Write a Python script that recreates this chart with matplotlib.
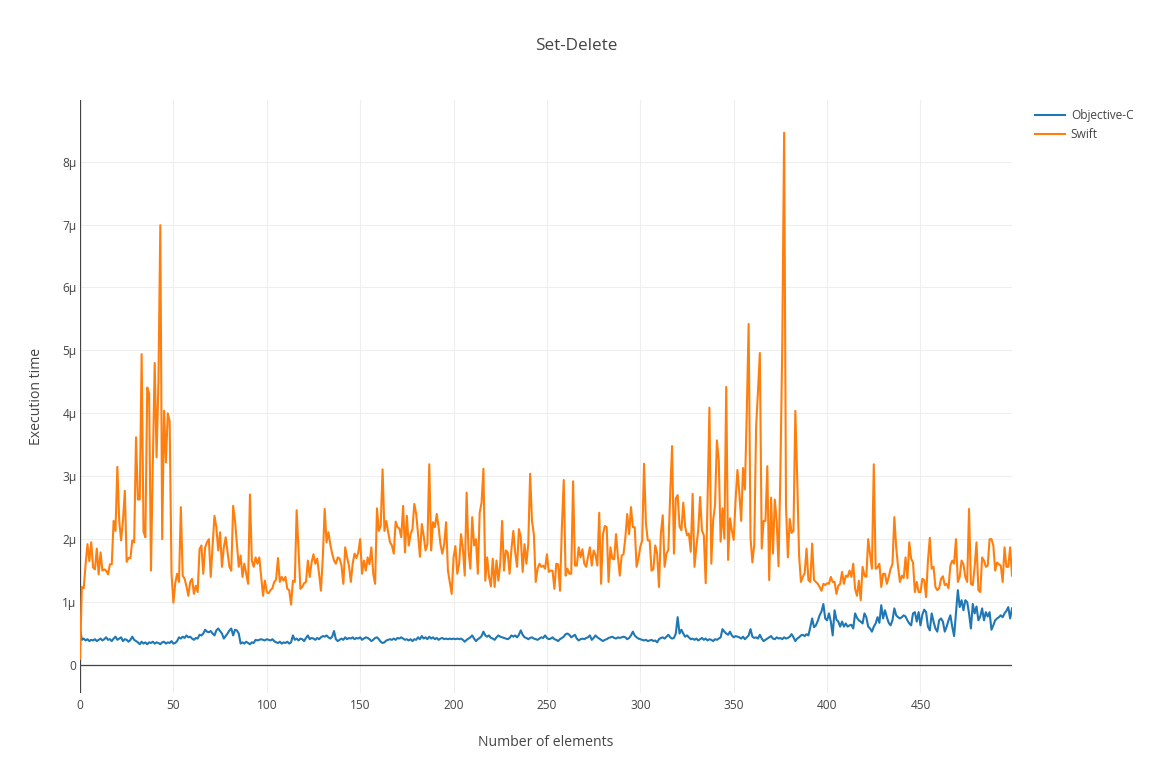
import matplotlib
matplotlib.use("Agg")
import matplotlib.pyplot as plt
import numpy as np

plt.rcParams['font.family'] = ['Open Sans', 'DejaVu Sans']

title = "Set-Delete"
x_title = "Number of elements"
y_title = "Execution time"
series_names = ["Objective-C", "Swift"]
x_ticks = [0, 50, 100, 150, 200, 250, 300, 350, 400, 450]
y_ticks = [0, 1, 2, 3, 4, 5, 6, 7, 8]
y_tick_labels = ["0", "1μ", "2μ", "3μ", "4μ", "5μ", "6μ", "7μ", "8μ"]

# execution time in microseconds, one value per element count 0..499
objc = [
    0.58, 0.4, 0.42, 0.39, 0.41, 0.38, 0.4, 0.39, 0.41, 0.38,
    0.4, 0.42, 0.39, 0.41, 0.44, 0.4, 0.41, 0.38, 0.42, 0.45,
    0.4, 0.42, 0.44, 0.38, 0.41, 0.4, 0.37, 0.4, 0.45, 0.4,
    0.38, 0.36, 0.33, 0.37, 0.34, 0.36, 0.33, 0.36, 0.35, 0.37,
    0.34, 0.36, 0.35, 0.33, 0.36, 0.37, 0.34, 0.36, 0.35, 0.38,
    0.34, 0.35, 0.38, 0.44, 0.42, 0.45, 0.43, 0.47, 0.44, 0.45,
    0.42, 0.4, 0.43, 0.42, 0.48, 0.47, 0.5, 0.56, 0.53, 0.52,
    0.54, 0.5, 0.47, 0.55, 0.58, 0.54, 0.5, 0.42, 0.46, 0.5,
    0.55, 0.58, 0.47, 0.56, 0.55, 0.5, 0.34, 0.36, 0.34, 0.37,
    0.35, 0.33, 0.36, 0.35, 0.4, 0.39, 0.4, 0.41, 0.4, 0.39,
    0.41, 0.4, 0.39, 0.41, 0.38, 0.36, 0.35, 0.37, 0.34, 0.36,
    0.35, 0.37, 0.34, 0.36, 0.47, 0.4, 0.42, 0.39, 0.42, 0.41,
    0.38, 0.43, 0.47, 0.41, 0.43, 0.42, 0.4, 0.43, 0.41, 0.44,
    0.46, 0.45, 0.47, 0.44, 0.42, 0.45, 0.54, 0.41, 0.38, 0.4,
    0.42, 0.4, 0.44, 0.41, 0.43, 0.42, 0.44, 0.41, 0.43, 0.42,
    0.44, 0.4, 0.42, 0.44, 0.43, 0.41, 0.38, 0.4, 0.43, 0.44,
    0.41, 0.37, 0.35, 0.36, 0.39, 0.4, 0.41, 0.4, 0.42, 0.4,
    0.43, 0.42, 0.44, 0.42, 0.4, 0.41, 0.39, 0.41, 0.38, 0.41,
    0.4, 0.44, 0.41, 0.46, 0.42, 0.44, 0.41, 0.45, 0.42, 0.44,
    0.41, 0.43, 0.4, 0.42, 0.43, 0.41, 0.42, 0.41, 0.42, 0.41,
    0.42, 0.41, 0.42, 0.41, 0.42, 0.4, 0.37, 0.4, 0.42, 0.44,
    0.47, 0.42, 0.38, 0.41, 0.43, 0.46, 0.53, 0.47, 0.45, 0.47,
    0.43, 0.42, 0.4, 0.44, 0.47, 0.45, 0.44, 0.43, 0.42, 0.41,
    0.43, 0.47, 0.45, 0.47, 0.44, 0.48, 0.55, 0.48, 0.44, 0.43,
    0.41, 0.43, 0.44, 0.42, 0.41, 0.4, 0.42, 0.44, 0.43, 0.47,
    0.43, 0.41, 0.42, 0.44, 0.41, 0.4, 0.38, 0.41, 0.43, 0.45,
    0.49, 0.5, 0.48, 0.44, 0.46, 0.48, 0.42, 0.39, 0.41, 0.42,
    0.41, 0.43, 0.44, 0.47, 0.4, 0.43, 0.47, 0.44, 0.42, 0.4,
    0.38, 0.4, 0.41, 0.43, 0.44, 0.45, 0.43, 0.42, 0.44, 0.43,
    0.44, 0.45, 0.44, 0.41, 0.43, 0.47, 0.53, 0.47, 0.44, 0.42,
    0.41, 0.4, 0.39, 0.4, 0.38, 0.39, 0.4, 0.38, 0.39, 0.36,
    0.41, 0.43, 0.44, 0.42, 0.45, 0.48, 0.44, 0.42, 0.43, 0.5,
    0.76, 0.5, 0.56, 0.5, 0.45, 0.47, 0.44, 0.41, 0.42, 0.4,
    0.42, 0.39, 0.41, 0.43, 0.4, 0.42, 0.39, 0.41, 0.4, 0.38,
    0.41, 0.4, 0.42, 0.44, 0.57, 0.53, 0.5, 0.48, 0.53, 0.47,
    0.44, 0.46, 0.45, 0.44, 0.42, 0.45, 0.41, 0.44, 0.47, 0.57,
    0.45, 0.43, 0.44, 0.42, 0.48, 0.42, 0.38, 0.4, 0.42, 0.44,
    0.46, 0.42, 0.41, 0.44, 0.42, 0.43, 0.41, 0.44, 0.42, 0.43,
    0.45, 0.49, 0.44, 0.38, 0.42, 0.44, 0.47, 0.48, 0.46, 0.49,
    0.47, 0.6, 0.74, 0.6, 0.63, 0.7, 0.79, 0.85, 0.97, 0.74,
    0.71, 0.82, 0.69, 0.47, 0.87, 0.72, 0.69, 0.61, 0.69, 0.61,
    0.66, 0.61, 0.63, 0.64, 0.58, 0.82, 0.75, 0.71, 0.69, 0.66,
    0.82, 0.76, 0.61, 0.58, 0.53, 0.61, 0.66, 0.76, 0.67, 0.95,
    0.74, 0.87, 0.76, 0.67, 0.63, 0.71, 0.9, 0.79, 0.76, 0.74,
    0.76, 0.79, 0.77, 0.71, 0.66, 0.63, 0.82, 0.84, 0.69, 0.84,
    0.63, 0.8, 0.88, 0.84, 0.61, 0.55, 0.82, 0.69, 0.58, 0.53,
    0.71, 0.74, 0.69, 0.53, 0.61, 0.71, 0.79, 0.61, 0.46, 0.82,
    1.19, 0.92, 1.03, 0.87, 1.03, 1.0, 0.82, 0.58, 0.97, 0.82,
    0.93, 0.71, 0.77, 0.9, 0.71, 0.84, 0.77, 0.84, 0.56, 0.63,
    0.71, 0.74, 0.76, 0.79, 0.76, 0.82, 0.86, 0.92, 0.74, 0.9,
]

swift = [
    0.1, 1.24, 1.22, 1.6, 1.92, 1.65, 1.95, 1.55, 1.52, 1.85,
    1.44, 1.79, 1.5, 1.52, 1.5, 1.44, 1.6, 1.6, 2.29, 2.13,
    3.15, 2.29, 1.98, 2.29, 2.77, 1.64, 1.7, 1.7, 1.98, 1.95,
    3.62, 2.63, 2.63, 4.94, 2.12, 2.03, 4.41, 4.32, 1.5, 3.22,
    4.8, 3.3, 4.5, 6.99, 2.0, 4.04, 3.22, 4.0, 3.87, 1.45,
    0.99, 1.3, 1.45, 1.32, 2.51, 1.42, 1.37, 1.25, 1.1, 1.32,
    1.37, 1.13, 1.26, 1.16, 1.84, 1.9, 1.45, 1.87, 1.95, 2.0,
    1.4, 1.9, 2.37, 2.19, 1.82, 2.11, 1.56, 1.87, 2.03, 1.79,
    1.56, 1.5, 2.53, 2.29, 1.92, 1.56, 1.74, 1.4, 1.61, 1.45,
    1.29, 2.71, 1.66, 1.56, 1.71, 1.61, 1.71, 1.4, 1.1, 1.34,
    1.16, 1.14, 1.19, 1.22, 1.32, 1.36, 1.7, 1.32, 1.4, 1.34,
    1.4, 1.21, 1.19, 0.96, 1.34, 1.32, 2.46, 1.84, 1.21, 1.24,
    1.3, 1.32, 1.66, 1.4, 1.63, 1.76, 1.61, 1.69, 1.45, 1.18,
    1.71, 2.48, 1.95, 2.11, 1.92, 1.77, 1.66, 1.61, 1.71, 1.69,
    1.58, 1.29, 1.87, 1.71, 1.58, 1.32, 1.61, 1.77, 1.7, 1.79,
    2.0, 1.45, 1.66, 1.5, 1.71, 1.6, 1.87, 1.45, 1.29, 2.49,
    2.13, 2.21, 3.11, 2.13, 2.29, 2.11, 1.95, 1.9, 1.77, 2.28,
    2.19, 2.17, 2.03, 2.53, 1.79, 2.37, 1.9, 2.08, 2.16, 2.56,
    2.4, 2.08, 1.72, 2.24, 2.06, 1.82, 1.92, 3.19, 1.82, 2.27,
    2.19, 2.4, 2.19, 1.92, 1.77, 1.92, 2.27, 1.5, 1.32, 1.13,
    1.71, 1.89, 1.45, 1.61, 2.08, 1.85, 1.42, 2.74, 1.82, 1.53,
    2.35, 1.9, 2.0, 1.45, 2.42, 2.58, 3.12, 1.34, 1.71, 1.4,
    1.25, 1.69, 1.24, 1.66, 1.34, 1.61, 2.29, 1.5, 1.82, 1.79,
    1.45, 1.84, 2.13, 1.79, 1.56, 2.16, 2.03, 1.48, 1.92, 1.61,
    1.92, 3.04, 2.29, 2.08, 1.32, 1.53, 1.61, 1.56, 1.58, 1.53,
    1.76, 1.48, 1.5, 1.5, 1.21, 1.61, 1.6, 1.18, 2.19, 2.94,
    1.42, 1.53, 1.45, 1.45, 2.92, 1.58, 1.58, 1.87, 1.71, 1.84,
    1.61, 1.56, 1.72, 1.87, 1.58, 1.82, 1.75, 1.58, 2.42, 1.29,
    2.08, 2.21, 2.19, 1.32, 1.87, 1.69, 1.68, 2.08, 1.72, 1.42,
    1.74, 1.76, 2.03, 2.4, 2.08, 2.51, 2.19, 2.19, 1.56, 1.69,
    1.88, 1.98, 3.2, 2.25, 1.98, 1.98, 1.5, 1.52, 1.9, 1.77,
    1.24, 2.09, 2.38, 1.56, 1.77, 1.83, 2.72, 3.48, 1.77, 2.65,
    2.7, 2.2, 2.14, 2.58, 2.2, 2.06, 2.09, 1.8, 2.72, 1.56,
    1.88, 2.14, 2.67, 2.14, 2.06, 1.3, 2.62, 4.09, 1.61, 2.3,
    2.54, 3.57, 3.25, 1.96, 2.49, 2.01, 4.42, 1.67, 2.33, 2.14,
    1.99, 2.62, 3.1, 2.74, 2.29, 3.13, 2.79, 4.02, 5.42, 2.02,
    1.63, 1.91, 3.79, 4.35, 4.96, 1.85, 2.29, 2.29, 3.16, 1.35,
    2.66, 1.77, 2.63, 2.29, 1.57, 3.07, 5.07, 8.46, 2.52, 1.71,
    2.32, 2.1, 2.13, 4.04, 2.96, 1.74, 1.32, 1.4, 1.46, 1.85,
    1.35, 1.32, 1.93, 1.35, 1.32, 1.29, 1.24, 1.18, 1.29, 1.27,
    1.3, 1.29, 1.4, 1.32, 1.32, 1.13, 1.26, 1.29, 1.48, 1.29,
    1.42, 1.4, 1.5, 1.4, 1.61, 1.21, 1.1, 1.34, 1.03, 1.56,
    1.42, 1.4, 2.0, 1.77, 1.53, 3.19, 1.53, 1.55, 1.61, 1.24,
    1.45, 1.45, 1.29, 1.4, 1.53, 1.6, 2.35, 1.87, 1.56, 1.32,
    1.42, 1.38, 1.71, 1.38, 1.95, 1.69, 1.63, 1.16, 1.32, 1.16,
    1.16, 1.37, 1.35, 1.08, 1.66, 2.02, 1.53, 1.56, 1.24, 1.19,
    1.22, 1.37, 1.41, 1.27, 1.29, 1.22, 1.58, 1.66, 1.61, 2.0,
    1.32, 1.4, 1.66, 1.6, 1.4, 1.32, 2.48, 1.29, 1.27, 1.56,
    1.95, 1.19, 1.16, 1.71, 1.66, 1.56, 1.58, 2.0, 2.0, 1.9,
    1.5, 1.63, 1.6, 1.58, 1.32, 1.87, 1.56, 1.56, 1.87, 1.42,
]

W, H = 1152, 775
fig = plt.figure(figsize=(W / 100, H / 100), dpi=100)
fig.patch.set_facecolor("white")
ax = fig.add_axes([80 / W, 1 - 693 / H, 932 / W, 593 / H])

x_objc = np.arange(len(objc))
x_swift = np.arange(len(swift))

ax.plot(x_objc, objc, color="#1f77b4", lw=1.5, label=series_names[0], zorder=3,
        solid_joinstyle="round")
ax.plot(x_swift, swift, color="#ff7f0e", lw=1.5, label=series_names[1], zorder=4,
        solid_joinstyle="round")

ax.set_xlim(0, 499)
ax.set_ylim(-0.445, 8.98)
ax.set_xticks(x_ticks)
ax.set_yticks(y_ticks)
ax.set_yticklabels(y_tick_labels)
ax.grid(True, color="#eeeeee", lw=0.75, zorder=0)
ax.set_axisbelow(True)
for s in ax.spines.values():
    s.set_visible(False)
ax.axhline(0, color="#444444", lw=0.9, zorder=2)
ax.axvline(0, color="#444444", lw=0.9, zorder=2)
ax.tick_params(axis="both", length=0, labelsize=8.6, colors="#444444")
ax.tick_params(axis="y", pad=2.5)
ax.tick_params(axis="x", pad=4)

fig.text(576 / W, 1 - 45.5 / H, title, ha="center", va="center", fontsize=12.3, color="#444444")
fig.text(546 / W, 1 - 742 / H, x_title, ha="center", va="center", fontsize=10.1, color="#444444")
fig.text(37 / W, 1 - 396 / H, y_title, ha="center", va="center", rotation=90,
         fontsize=10.1, color="#444444")

leg = ax.legend(loc="upper left", bbox_to_anchor=(1035 / W, 1 - 109 / H),
                bbox_transform=fig.transFigure, frameon=False, fontsize=8.6,
                handlelength=2.55, handletextpad=0.45, labelspacing=0.5,
                borderpad=0, borderaxespad=0)
for t in leg.get_texts():
    t.set_color("#444444")

fig.savefig("out.png", dpi=100, facecolor="white")
